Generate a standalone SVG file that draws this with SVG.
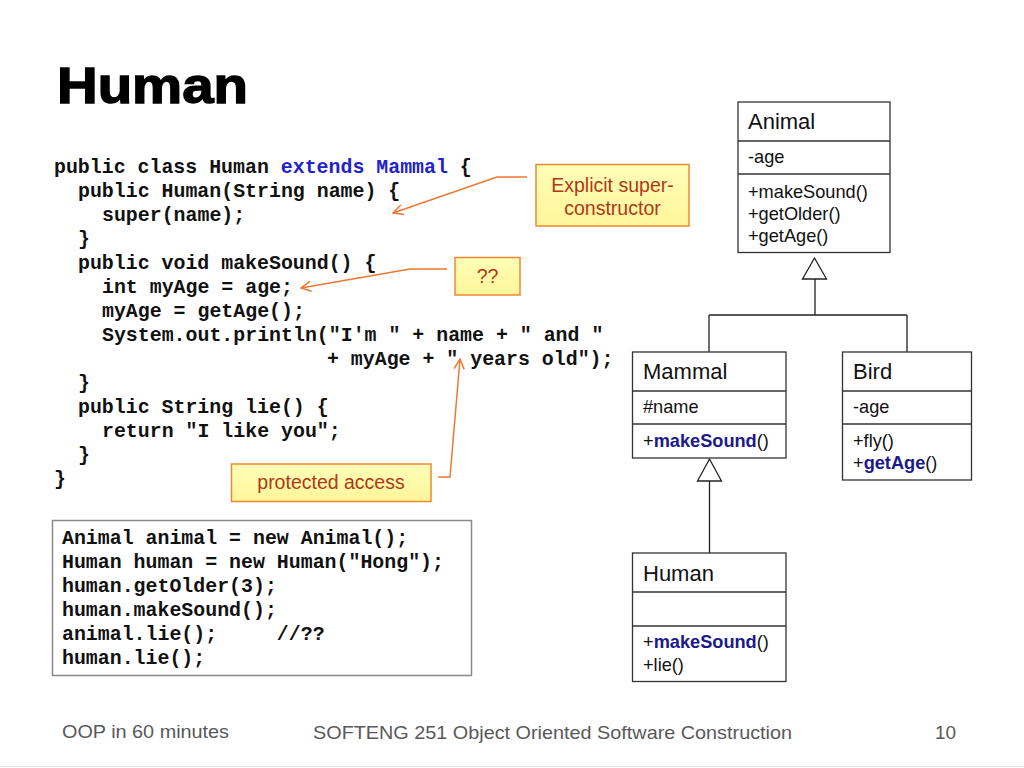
<svg xmlns="http://www.w3.org/2000/svg" width="1024" height="768" viewBox="0 0 1024 768">
<defs>
<style>
.code{font-family:"Liberation Mono","Courier New",monospace;font-weight:bold;font-size:19.9px;fill:#111;white-space:pre}
.kw{fill:#2222CC}
.cls{fill:#fff;stroke:#333;stroke-width:1.3}
.sep{stroke:#333;stroke-width:1.3}
.cname{font-family:"Liberation Sans",Arial,sans-serif;font-size:22px;fill:#111}
.mem{font-family:"Liberation Sans",Arial,sans-serif;font-size:18.2px;fill:#111}
.hl{font-weight:bold;fill:#1A1A8C}
.callout{fill:url(#yel);stroke:#EE8833;stroke-width:1.5}
.ctext{font-family:"Liberation Sans",Arial,sans-serif;font-size:19.5px;fill:#B0381A;text-anchor:middle}
.lead{fill:none;stroke:#EE7733;stroke-width:1.5}
.inh{fill:none;stroke:#222;stroke-width:1.3}
.foot{font-family:"Liberation Sans",Arial,sans-serif;font-size:19px;fill:#595959}
</style>
<linearGradient id="yel" x1="0" y1="0" x2="0" y2="1">
<stop offset="0" stop-color="#FFFFB8"/>
<stop offset="1" stop-color="#FFF59A"/>
</linearGradient>
<marker id="open" viewBox="0 0 12 12" refX="11" refY="6" markerWidth="12" markerHeight="12" markerUnits="userSpaceOnUse" orient="auto">
<path d="M1,1 L11,6 L1,11" fill="none" stroke="#EE7733" stroke-width="1.5"/>
</marker>
</defs>
<rect width="1024" height="768" fill="#fff"/>

<text x="57" y="103" font-family="'Liberation Sans',Arial,sans-serif" font-weight="bold" font-size="50" textLength="191" lengthAdjust="spacingAndGlyphs" fill="#000" stroke="#000" stroke-width="1.4">Human</text>

<g id="code" class="code">
<text x="54" y="173" xml:space="preserve">public class Human <tspan class="kw">extends Mammal</tspan> {</text>
<text x="78" y="197">public Human(String name) {</text>
<text x="102" y="221">super(name);</text>
<text x="78" y="245">}</text>
<text x="78" y="269">public void makeSound() {</text>
<text x="102" y="293">int myAge = age;</text>
<text x="102" y="317">myAge = getAge();</text>
<text x="102" y="341" xml:space="preserve">System.out.println("I'm " + name + " and "</text>
<text x="327" y="365" xml:space="preserve">+ myAge + " years old");</text>
<text x="78" y="389">}</text>
<text x="78" y="413">public String lie() {</text>
<text x="102" y="437">return "I like you";</text>
<text x="78" y="461">}</text>
<text x="54" y="485">}</text>
</g>

<g id="usage">
<rect x="52.5" y="520.5" width="419" height="155" fill="#fff" stroke="#8a8a8a" stroke-width="1.5"/>
<g class="code">
<text x="62" y="544">Animal animal = new Animal();</text>
<text x="62" y="568">Human human = new Human("Hong");</text>
<text x="62" y="592">human.getOlder(3);</text>
<text x="62" y="616">human.makeSound();</text>
<text x="62" y="640" xml:space="preserve">animal.lie();     //??</text>
<text x="62" y="664">human.lie();</text>
</g>
</g>

<g id="connectors">
<path class="lead" d="M527,177 L497,177 L393,213" marker-end="url(#open)"/>
<path class="lead" d="M447,269 L410,269 L301,288" marker-end="url(#open)"/>
<path class="lead" d="M438,477 L450,477 L460,359" marker-end="url(#open)"/>
<path class="inh" d="M815,279 L815,315 M709,315 L907,315 M709,315 L709,352 M907,315 L907,352"/>
<path class="inh" d="M709.5,481 L709.5,553"/>
<polygon class="inh" fill="#fff" points="814.5,258 802.5,279 826.5,279"/>
<polygon class="inh" fill="#fff" points="709.5,459 697.5,481 721.5,481"/>
</g>

<g id="callout-super">
<rect class="callout" x="536" y="164.5" width="153" height="61.5"/>
<text class="ctext" x="612.5" y="192">Explicit super-</text>
<text class="ctext" x="612.5" y="215">constructor</text>
</g>
<g id="callout-q">
<rect class="callout" x="455" y="257.5" width="65" height="37.5"/>
<text class="ctext" x="487.5" y="283">??</text>
</g>
<g id="callout-protected">
<rect class="callout" x="231.5" y="464" width="199.5" height="37.5"/>
<text class="ctext" x="331" y="489">protected access</text>
</g>

<g id="Animal">
<rect class="cls" x="738" y="102" width="152" height="150.5"/>
<line class="sep" x1="738" y1="141" x2="890" y2="141"/>
<line class="sep" x1="738" y1="174" x2="890" y2="174"/>
<text class="cname" x="748" y="129">Animal</text>
<text class="mem" x="748" y="163">-age</text>
<text class="mem" x="748" y="198">+makeSound()</text>
<text class="mem" x="748" y="220">+getOlder()</text>
<text class="mem" x="748" y="242">+getAge()</text>
</g>

<g id="Mammal">
<rect class="cls" x="632.5" y="352" width="153.5" height="106"/>
<line class="sep" x1="632.5" y1="391" x2="786" y2="391"/>
<line class="sep" x1="632.5" y1="424" x2="786" y2="424"/>
<text class="cname" x="643" y="379">Mammal</text>
<text class="mem" x="643" y="413">#name</text>
<text class="mem" x="643" y="447">+<tspan class="hl">makeSound</tspan>()</text>
</g>

<g id="Bird">
<rect class="cls" x="842.5" y="352" width="129" height="128"/>
<line class="sep" x1="842.5" y1="391" x2="971.5" y2="391"/>
<line class="sep" x1="842.5" y1="424" x2="971.5" y2="424"/>
<text class="cname" x="853" y="379">Bird</text>
<text class="mem" x="853" y="413">-age</text>
<text class="mem" x="853" y="447">+fly()</text>
<text class="mem" x="853" y="469">+<tspan class="hl">getAge</tspan>()</text>
</g>

<g id="HumanClass">
<rect class="cls" x="632.5" y="553" width="153.5" height="128.5"/>
<line class="sep" x1="632.5" y1="592" x2="786" y2="592"/>
<line class="sep" x1="632.5" y1="626" x2="786" y2="626"/>
<text class="cname" x="643" y="581">Human</text>
<text class="mem" x="643" y="648">+<tspan class="hl">makeSound</tspan>()</text>
<text class="mem" x="643" y="671">+lie()</text>
</g>

<g id="footer">
<text class="foot" x="62" y="738" textLength="167" lengthAdjust="spacingAndGlyphs">OOP in 60 minutes</text>
<text class="foot" x="313" y="739" textLength="479" lengthAdjust="spacingAndGlyphs">SOFTENG 251 Object Oriented Software Construction</text>
<text class="foot" x="935" y="739">10</text>
<line x1="0" y1="766.5" x2="1024" y2="766.5" stroke="#e6e6e6" stroke-width="1"/>
</g>
</svg>
